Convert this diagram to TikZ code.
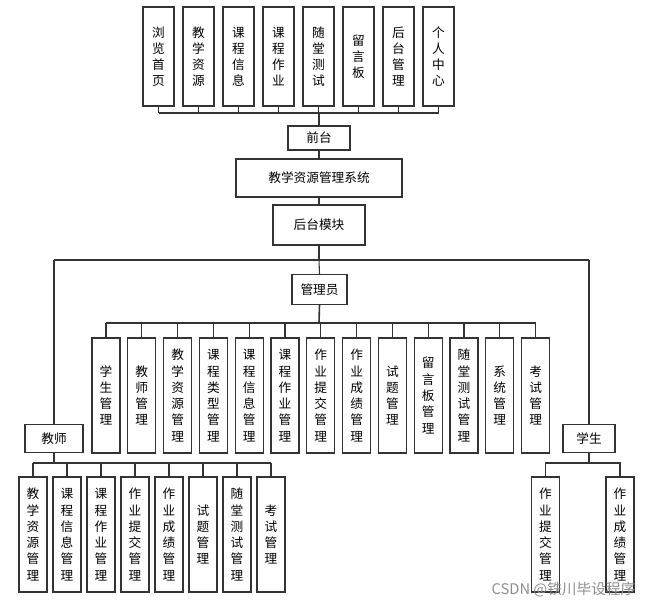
\documentclass[tikz,border=0pt]{standalone}
\usepackage{fontspec}
\setmainfont{Noto Sans CJK SC}
\begin{document}
\begin{tikzpicture}[x=0.75pt,y=-0.75pt,
  ln/.style={draw=black!80,line width=0.8pt},
  box/.style={ln,fill=white,inner sep=0pt,align=center,font=\fontsize{9.5}{12}\selectfont},
  top/.style={box,minimum width=23.25pt,minimum height=74.25pt},
  adm/.style={box,minimum width=21pt,minimum height=86.25pt,font=\fontsize{9.5}{12.2}\selectfont},
  sub/.style={box,minimum width=21pt,minimum height=86.25pt,font=\fontsize{9.5}{12.2}\selectfont},
  hb/.style={box,minimum height=21pt}]
\useasboundingbox (0,0) rectangle (650,609);
% top
\foreach \t [count=\i] in {浏\\览\\首\\页,教\\学\\资\\源,课\\程\\信\\息,课\\程\\作\\业,随\\堂\\测\\试,留\\言\\板,后\\台\\管\\理,个\\人\\中\\心}{
  \node[top] (t\i) at ({118.5+40*\i},56.5) {\t};
}
\coordinate (busT) at (319,113);
\foreach \i in {1,...,8}{\draw[ln] (t\i.south) -- (t\i.south|-busT);}
\draw[ln] (t1.south|-busT) -- (t8.south|-busT);
\node[hb,minimum width=46.5pt,minimum height=18pt] (qt) at (319,138) {前台};
\node[hb,minimum width=124.5pt,minimum height=28.5pt] (sys) at (319,178) {教学资源管理系统};
\node[hb,minimum width=69pt,minimum height=30pt] (ht) at (319,225) {后台模块};
\draw[ln,line width=1.5pt] (busT) -- (qt);
\draw[ln] (qt) -- (sys);
\draw[ln] (sys) -- (ht);
\coordinate (busB) at (319,260);
\draw[ln,line width=1.2pt] (ht) -- (busB);
\node[hb,minimum width=41.25pt,minimum height=22pt] (gly) at (319.5,289.5) {管理员};
\node[hb,minimum width=43.5pt,minimum height=21pt] (js) at (54,438.5) {教师};
\node[hb,minimum width=39pt,minimum height=21pt] (xs) at (589,438.5) {学生};
\draw[ln] (js.north|-busB) -- (xs.north|-busB);
\draw[ln] (js.north|-busB) -- (js.north);
\draw[ln] (xs.north|-busB) -- (xs.north);
\draw[ln] (busB) -- (gly.north);
% admin children
\coordinate (busA) at (319,323);
\draw[ln,line width=1.2pt] (gly.south) -- (busA);
\foreach \t [count=\i] in {学\\生\\管\\理,教\\师\\管\\理,教\\学\\资\\源\\管\\理,课\\程\\类\\型\\管\\理,课\\程\\信\\息\\管\\理,课\\程\\作\\业\\管\\理,作\\业\\提\\交\\管\\理,作\\业\\成\\绩\\管\\理,试\\题\\管\\理,留\\言\\板\\管\\理,随\\堂\\测\\试\\管\\理,系\\统\\管\\理,考\\试\\管\\理}{
  \node[adm] (a\i) at ({70.2+35.8*\i},395.5) {\t};
  \draw[ln] (a\i.north) -- (a\i.north|-busA);
}
\draw[ln] (a1.north|-busA) -- (a13.north|-busA);
% teacher children
\coordinate (busJ) at (54,463);
\draw[ln] (js.south) -- (busJ);
\foreach \t [count=\i] in {教\\学\\资\\源\\管\\理,课\\程\\信\\息\\管\\理,课\\程\\作\\业\\管\\理,作\\业\\提\\交\\管\\理,作\\业\\成\\绩\\管\\理,试\\题\\管\\理,随\\堂\\测\\试\\管\\理,考\\试\\管\\理}{
  \node[sub] (j\i) at ({-1+34*\i},534.5) {\t};
  \draw[ln] (j\i.north) -- (j\i.north|-busJ);
}
\draw[ln] (j1.north|-busJ) -- (j8.north|-busJ);
% student children
\coordinate (busS) at (589,463);
\draw[ln] (xs.south) -- (busS);
\node[sub] (s1) at (545.5,534.5) {作\\业\\提\\交\\管\\理};
\node[sub] (s2) at (620,534.5) {作\\业\\成\\绩\\管\\理};
\draw[ln] (s1.north) -- (s1.north|-busS) -- (s2.north|-busS) -- (s2.north);
\node[text=black!45,font=\fontsize{11}{13}\selectfont,anchor=east] (wm) at (640,590) {CSDN @铁川毕设程序};
\end{tikzpicture}
\end{document}
